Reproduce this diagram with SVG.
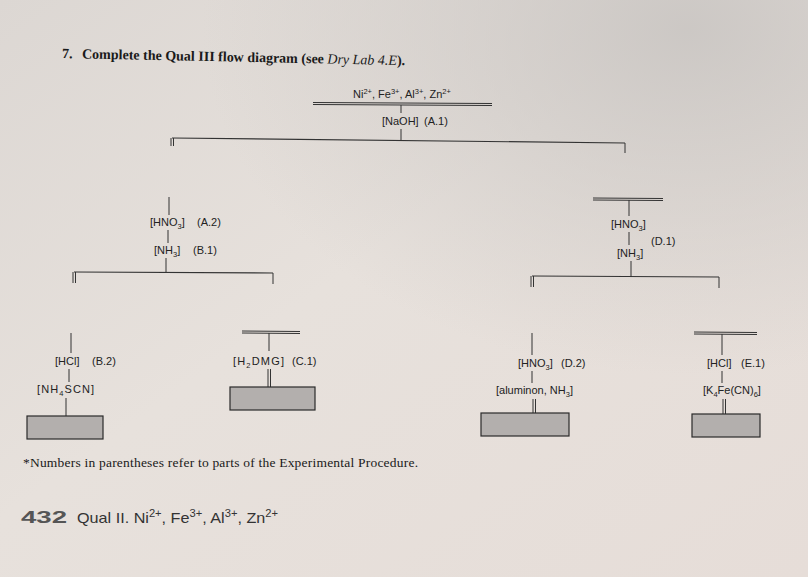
<svg xmlns="http://www.w3.org/2000/svg" width="808" height="577" viewBox="0 0 808 577">
<defs>
<linearGradient id="bg" x1="0" y1="0" x2="1" y2="1">
<stop offset="0" stop-color="#dcd7d3"/>
<stop offset="0.45" stop-color="#e7e1dc"/>
<stop offset="1" stop-color="#e6ddd8"/>
</linearGradient>
<radialGradient id="shade" cx="0.85" cy="0.05" r="0.6">
<stop offset="0" stop-color="#c9c5c2" stop-opacity="0.9"/>
<stop offset="1" stop-color="#c9c5c2" stop-opacity="0"/>
</radialGradient>
<style>
.ln{stroke:#333;stroke-width:1.2;fill:none}
.thin{stroke:#333;stroke-width:1;fill:none}
.lbl{font-family:"Liberation Sans",Arial,sans-serif;font-size:11px;fill:#222}
.sub{font-size:7.5px}
.box{fill:#b3afad;stroke:#2a2a2a;stroke-width:1.2}
.serif{font-family:"Liberation Serif","Times New Roman",serif;fill:#1a1a1a}
.foot{font-family:"Liberation Sans",Arial,sans-serif}
</style>
</defs>
<rect width="808" height="577" fill="url(#bg)"/>
<rect width="808" height="577" fill="url(#shade)"/>

<g id="title">
<text class="serif" font-size="14" font-weight="bold" transform="rotate(1.2 62 58)"><tspan x="62" y="58">7.</tspan><tspan x="82" y="58">Complete the Qual III flow diagram (see <tspan font-style="italic" font-weight="normal">Dry Lab 4.E</tspan>).</tspan></text>
</g>

<g id="connectors">
<line class="thin" x1="313" y1="102.5" x2="492" y2="103.5"/>
<line class="thin" x1="313" y1="104.5" x2="492" y2="105.5"/>
<line class="thin" x1="401" y1="105" x2="401" y2="113"/>
<line class="thin" x1="401" y1="129" x2="401" y2="140"/>
<line class="ln" x1="172" y1="138" x2="625" y2="143"/>
<line class="thin" x1="171" y1="138" x2="171" y2="146"/>
<line class="thin" x1="173.5" y1="138" x2="173.5" y2="146"/>
<line class="thin" x1="625" y1="143" x2="625" y2="153"/>
<line class="thin" x1="169" y1="197" x2="169" y2="215"/>
<line class="thin" x1="168" y1="230" x2="168" y2="243"/>
<line class="thin" x1="166" y1="258" x2="166" y2="272"/>
<line class="ln" x1="74" y1="272" x2="273" y2="273"/>
<line class="thin" x1="73" y1="272" x2="73" y2="283"/>
<line class="thin" x1="75.5" y1="272" x2="75.5" y2="283"/>
<line class="thin" x1="273" y1="273" x2="273" y2="284"/>
<line class="thin" x1="593" y1="198" x2="663" y2="198.5"/>
<line class="thin" x1="593" y1="200" x2="663" y2="200.5"/>
<line class="thin" x1="629" y1="200" x2="629" y2="216"/>
<line class="thin" x1="629" y1="232" x2="629" y2="245"/>
<line class="thin" x1="631" y1="261" x2="631" y2="276"/>
<line class="ln" x1="532" y1="276" x2="719" y2="277"/>
<line class="thin" x1="531" y1="276" x2="531" y2="287"/>
<line class="thin" x1="533.5" y1="276" x2="533.5" y2="287"/>
<line class="thin" x1="719" y1="277" x2="719" y2="288"/>
<line class="thin" x1="71" y1="333" x2="71" y2="353"/>
<line class="thin" x1="69" y1="369" x2="69" y2="382"/>
<line class="thin" x1="66" y1="398" x2="66" y2="416"/>
<line class="thin" x1="242" y1="331" x2="300" y2="331.5"/>
<line class="thin" x1="242" y1="333" x2="300" y2="333.5"/>
<line class="thin" x1="269" y1="333" x2="269" y2="351"/>
<line class="thin" x1="268" y1="369" x2="268" y2="387"/>
<line class="thin" x1="270.5" y1="369" x2="270.5" y2="387"/>
<line class="thin" x1="532" y1="333" x2="532" y2="355"/>
<line class="thin" x1="532" y1="371" x2="532" y2="383"/>
<line class="thin" x1="533" y1="399" x2="533" y2="413"/>
<line class="thin" x1="535.5" y1="399" x2="535.5" y2="413"/>
<line class="thin" x1="694" y1="332" x2="757" y2="332.5"/>
<line class="thin" x1="694" y1="334" x2="757" y2="334.5"/>
<line class="thin" x1="722" y1="334" x2="722" y2="355"/>
<line class="thin" x1="722" y1="371" x2="722" y2="383"/>
<line class="thin" x1="723" y1="399" x2="723" y2="414"/>
<line class="thin" x1="725.5" y1="399" x2="725.5" y2="414"/>
</g>

<g id="n-start">
<text class="lbl" x="353" y="98">Ni<tspan class="sub" dy="-4">2+</tspan><tspan dy="4">, Fe</tspan><tspan class="sub" dy="-4">3+</tspan><tspan dy="4">, Al</tspan><tspan class="sub" dy="-4">3+</tspan><tspan dy="4">, Zn</tspan><tspan class="sub" dy="-4">2+</tspan></text>
</g>

<g id="n-A1">
<text class="lbl" x="382" y="125">[NaOH]</text>
<text class="lbl" x="424" y="125">(A.1)</text>
</g>

<g id="n-A2-B1">
<text class="lbl" x="150" y="226">[HNO<tspan class="sub" dy="3">3</tspan><tspan dy="-3">]</tspan></text>
<text class="lbl" x="197" y="226">(A.2)</text>
<text class="lbl" x="154" y="254">[NH<tspan class="sub" dy="3">3</tspan><tspan dy="-3">]</tspan></text>
<text class="lbl" x="193" y="254">(B.1)</text>
</g>

<g id="n-D1">
<text class="lbl" x="611" y="228">[HNO<tspan class="sub" dy="3">3</tspan><tspan dy="-3">]</tspan></text>
<text class="lbl" x="651" y="245">(D.1)</text>
<text class="lbl" x="617" y="257">[NH<tspan class="sub" dy="3">3</tspan><tspan dy="-3">]</tspan></text>
</g>

<g id="n-B2">
<text class="lbl" x="55" y="365">[HCl]</text>
<text class="lbl" x="92" y="365">(B.2)</text>
<text class="lbl" x="37" y="393" textLength="57">[NH<tspan class="sub" dy="3">4</tspan><tspan dy="-3">SCN]</tspan></text>
<rect class="box" x="27" y="416" width="76" height="23"/>
</g>

<g id="n-C1">
<text class="lbl" x="233" y="365" textLength="51">[H<tspan class="sub" dy="3">2</tspan><tspan dy="-3">DMG]</tspan></text>
<text class="lbl" x="292" y="365">(C.1)</text>
<rect class="box" x="230" y="387" width="85" height="23"/>
</g>

<g id="n-D2">
<text class="lbl" x="518" y="367">[HNO<tspan class="sub" dy="3">3</tspan><tspan dy="-3">]</tspan></text>
<text class="lbl" x="561" y="367">(D.2)</text>
<text class="lbl" x="496" y="394">[aluminon, NH<tspan class="sub" dy="3">3</tspan><tspan dy="-3">]</tspan></text>
<rect class="box" x="481" y="413" width="88" height="23"/>
</g>

<g id="n-E1">
<text class="lbl" x="707" y="367">[HCl]</text>
<text class="lbl" x="741" y="367">(E.1)</text>
<text class="lbl" x="703" y="394">[K<tspan class="sub" dy="3">4</tspan><tspan dy="-3">Fe(CN)</tspan><tspan class="sub" dy="3">6</tspan><tspan dy="-3">]</tspan></text>
<rect class="box" x="692" y="414" width="68" height="23"/>
</g>

<g id="footnote">
<text class="serif" x="23" y="467" font-size="13.5" textLength="395">*Numbers in parentheses refer to parts of the Experimental Procedure.</text>
</g>

<g id="footer">
<text class="foot" x="21" y="523" font-size="16" font-weight="bold" fill="#555" textLength="46" lengthAdjust="spacingAndGlyphs">432</text>
<text class="foot" x="77" y="523" font-size="14.5" fill="#333" textLength="201" lengthAdjust="spacingAndGlyphs">Qual II. Ni<tspan font-size="10" dy="-6">2+</tspan><tspan dy="6">, Fe</tspan><tspan font-size="10" dy="-6">3+</tspan><tspan dy="6">, Al</tspan><tspan font-size="10" dy="-6">3+</tspan><tspan dy="6">, Zn</tspan><tspan font-size="10" dy="-6">2+</tspan></text>
</g>
</svg>
